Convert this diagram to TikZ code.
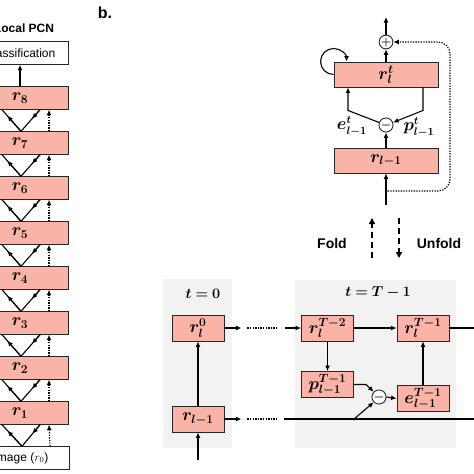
\documentclass[tikz,border=0pt]{standalone}
\usepackage{fontspec}
\setmainfont{Liberation Sans}
\usepackage{bm}
\usetikzlibrary{
  arrows.meta,
  calc,
  positioning
}
\definecolor{salmon}{HTML}{F9B4A7}
\definecolor{panelgray}{HTML}{F2F2F2}
\definecolor{edge}{HTML}{262626}
\tikzset{
  unit/.style={
    draw=edge,
    line width=0.9pt,
    fill=salmon,
    minimum width=52pt,
    minimum height=26pt,
    inner sep=0pt,
    font=\fontsize{17}{19}\selectfont
  },
  layer/.style={unit, minimum width=96pt, minimum height=22.5pt},
  wide/.style={unit, minimum width=104pt, minimum height=25pt},
  io/.style={layer, fill=white, font=\fontsize{12}{14}\selectfont},
  op/.style={
    circle,
    draw=edge,
    line width=0.9pt,
    fill=white,
    minimum size=13pt,
    inner sep=0pt,
    font=\fontsize{12}{12}\selectfont
  },
  arrow/.style={-{Latex[length=5.5pt, width=5pt]}, line width=1.1pt},
  wire/.style={line width=1.1pt},
  dots/.style={line width=1.2pt, dash pattern=on 1.3pt off 1.3pt},
  dottedarrow/.style={arrow, dash pattern=on 1.3pt off 1.3pt},
  foldarrow/.style={
    -{Triangle[length=6pt, width=6pt]},
    line width=1.8pt,
    dash pattern=on 6pt off 4pt
  },
  panel/.style={fill=panelgray, draw=none, inner sep=0pt},
  stamp/.style={font=\fontsize{15}{17}\selectfont},
  heading/.style={font=\bfseries\fontsize{12}{14}\selectfont},
  tap/.style={circle, fill=black, inner sep=0pt, minimum size=3pt}
}

\begin{document}
\begin{tikzpicture}[x=1pt, y=-1pt]
  \useasboundingbox (0,0) rectangle (474,474);
  \clip (0,0) rectangle (474,474);

  % a. local PCN stack
  \node[heading] (title) at (24,28) {Local PCN};
  \node[io] (r0) at (21,458) {Image ($r_0$)};
  \foreach \l in {1,...,8}
    \node[layer] (r\l) at (20,458-45*\l) {$\bm{r_{\l}}$};
  \node[io] (cls) at (20,53) {Classification};
  \draw[arrow] (r8.north) -- (cls.south);

  \foreach \l [count=\k from 0] in {1,...,8} {
    \coordinate (apex\l) at ($(r\k.north)+(1,0)$);
    \coordinate (err\l) at ($(r\l.south)+(-18,0)$);
    \coordinate (pred\l) at ($(r\l.south)+(20,0)$);
    \draw[wire] (apex\l) -- (err\l);
    \draw[arrow] (apex\l) -- ($(apex\l)!0.72!(err\l)$);
    \draw[wire] (pred\l) -- (apex\l);
    \draw[arrow] (pred\l) -- ($(pred\l)!0.42!(apex\l)$);
    \draw[dottedarrow] ($(r\k.north)+(29,0)$) -- ($(r\l.south)+(29,0)$);
  }

  % b. recurrent unit
  \node[font=\bfseries\fontsize{16}{18}\selectfont] (tagb) at (105,13) {b.};

  \node[wide] (rt) at (386,74.5) {$\bm{r_l^t}$};
  \node[wide] (rin) at (386,160.5) {$\bm{r_{l-1}}$};
  \node[op] (sub) at (386,125) {$\bm{-}$};
  \node[op] (add) at (386,42) {$\bm{+}$};
  \coordinate (feed) at (386,205);
  \coordinate (out) at (386,17);
  \node[tap] (tapin) at (386,191) {};

  \draw[arrow] (feed) -- (rin.south);
  \draw[arrow] (rin.north) -- (sub.south);
  \draw[arrow] (sub.160) -- ($(rt.south)+(-38,23)$) -- ($(rt.south)+(-38,0)$);
  \draw[arrow] ($(rt.south)+(37,0)$) -- ($(rt.south)+(37,23)$) -- (sub.20);
  \draw[arrow] (rt.north) -- (add.south);
  \draw[arrow] (add.north) -- (out);
  \draw[arrow] (rt.west) arc[start angle=-90, end angle=-360, radius=13pt];
  \draw[dottedarrow, rounded corners=12pt] (tapin) -- ++(64,0) |- (add.east);

  \node[font=\fontsize{16}{18}\selectfont] (elabel) at (352,126) {$\bm{e_{l-1}^t}$};
  \node[font=\fontsize{16}{18}\selectfont] (plabel) at (419,127) {$\bm{p_{l-1}^t}$};

  % fold / unfold
  \node[font=\bfseries\fontsize{14}{16}\selectfont] (fold) at (332,243) {Fold};
  \node[font=\bfseries\fontsize{14}{16}\selectfont] (unfold) at (439,243) {Unfold};
  \coordinate (foldlo) at (372,258);
  \coordinate (foldhi) at (372,218);
  \coordinate (unfoldhi) at (399,218);
  \coordinate (unfoldlo) at (399,258);
  \draw[foldarrow] (foldlo) -- (foldhi);
  \draw[foldarrow] (unfoldhi) -- (unfoldlo);

  % unrolled in time
  \node[panel, minimum width=69pt, minimum height=169pt] (slice0) at (197.5,363.5) {};
  \node[panel, minimum width=161pt, minimum height=168pt] (sliceT) at (375.5,364) {};
  \node[stamp] (t0) at (203,294) {$\bm{t=0}$};
  \node[stamp] (tT) at (378,293) {$\bm{t=T-1}$};

  \node[unit] (rl0) at (198,328) {$\bm{r_l^0}$};
  \node[unit] (rl1) at (198,419) {$\bm{r_{l-1}}$};
  \node[unit] (rT2) at (327.5,328) {$\bm{r_l^{T-2}}$};
  \node[unit] (rT1) at (423,328) {$\bm{r_l^{T-1}}$};
  \node[unit] (pT) at (327.5,384.5) {$\bm{p_{l-1}^{T-1}}$};
  \node[unit] (eT) at (423,398.5) {$\bm{e_{l-1}^{T-1}}$};
  \node[op] (sub2) at (379,397) {$\bm{-}$};
  \coordinate (feedb) at (198,460);
  \node[tap] (tapb) at (354,419) {};

  \draw[arrow] (feedb) -- (rl1.south);
  \draw[arrow] (rl1.north) -- (rl0.south);

  \draw[arrow] (rl0.east) -- ++(17,0);
  \draw[dots] ($(rl0.east)+(23,0)$) -- ++(30,0);
  \draw[arrow] ($(rl0.east)+(61,0)$) -- (rT2.west);

  \draw[arrow] (rl1.east) -- ++(17,0);
  \draw[dots] ($(rl1.east)+(23,0)$) -- ++(30,0);
  \draw[wire] ($(rl1.east)+(60,0)$) -- ++(200,0);

  \draw[arrow] (rT2.east) -- (rT1.west);
  \draw[wire] (rT1.east) -- ++(40,0);
  \draw[arrow] (rT2.south) -- (pT.north);
  \draw[arrow] (pT.east) -- ++(12,0) -- (sub2.135);
  \draw[arrow] (tapb) -- (sub2.225);
  \draw[arrow] (sub2.east) -- (eT.west);
  \draw[arrow] (eT.north) -- (rT1.south);
\end{tikzpicture}
\end{document}
